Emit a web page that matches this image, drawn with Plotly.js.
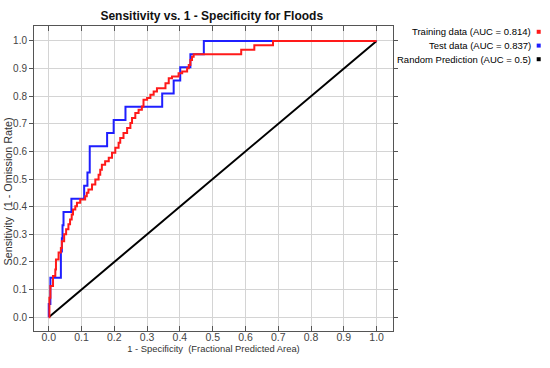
<!DOCTYPE html>
<html><head><meta charset="utf-8">
<script src="https://cdn.plot.ly/plotly-3.0.1.min.js"></script>
<style>html,body{margin:0;padding:0;background:#fff}</style>
</head><body><div id="chart" style="width:550px;height:368px"></div>
<script>
// Training data ROC (1 - specificity, sensitivity), step points
var trainFpr = [0, 0.002, 0.005, 0.013, 0.020, 0.022, 0.030, 0.037, 0.040, 0.047,
  0.053, 0.060, 0.065, 0.070, 0.074, 0.081, 0.086, 0.096, 0.111, 0.116,
  0.121, 0.132, 0.142, 0.152, 0.157, 0.162, 0.172, 0.183, 0.193, 0.203,
  0.213, 0.218, 0.228, 0.239, 0.249, 0.254, 0.264, 0.274, 0.284, 0.289,
  0.300, 0.310, 0.320, 0.330, 0.356, 0.366, 0.376, 0.396, 0.407, 0.422,
  0.427, 0.432, 0.437, 0.442, 0.587, 0.627, 0.684, 1.0];
var trainTpr = [0, 0.07, 0.113, 0.149, 0.173, 0.209, 0.234, 0.25, 0.275, 0.30,
  0.318, 0.336, 0.354, 0.372, 0.39, 0.402, 0.414, 0.426, 0.438, 0.45,
  0.462, 0.48, 0.498, 0.516, 0.534, 0.552, 0.564, 0.577, 0.595, 0.613,
  0.631, 0.649, 0.667, 0.685, 0.703, 0.721, 0.739, 0.751, 0.763, 0.787,
  0.793, 0.805, 0.817, 0.829, 0.847, 0.865, 0.871, 0.883, 0.889, 0.901,
  0.913, 0.931, 0.943, 0.952, 0.968, 0.984, 1.0, 1.0];
// Test data ROC
var testFpr = [0, 0, 0.005, 0.037, 0.040, 0.042, 0.045, 0.069, 0.108, 0.118,
  0.125, 0.178, 0.198, 0.234, 0.346, 0.381, 0.401, 0.432, 0.473, 1.0];
var testTpr = [0, 0.048, 0.143, 0.238, 0.286, 0.333, 0.381, 0.429, 0.476, 0.524,
  0.619, 0.667, 0.714, 0.762, 0.810, 0.857, 0.905, 0.952, 1.0, 1.0];
// Random prediction
var randX = [0, 1];
var randY = [0, 1];

var seriesNames = ['Training data (AUC = 0.814)', 'Test data (AUC = 0.837)', 'Random Prediction (AUC = 0.5)'];
var seriesColors = ['#ff1a1a', '#1f1fff', '#000000'];
var xTitle = '1 - Specificity\u00a0 (Fractional Predicted Area)';
var yTitle = 'Sensitivity\u00a0 (1 - Omission Rate)';
var chartTitle = 'Sensitivity vs. 1 - Specificity for Floods';

var traces = [
  {x: randX, y: randY, mode: 'lines', line: {color: seriesColors[2], width: 2}, name: seriesNames[2]},
  {x: testFpr, y: testTpr, mode: 'lines', line: {color: seriesColors[1], width: 2, shape: 'hv'}, name: seriesNames[1]},
  {x: trainFpr, y: trainTpr, mode: 'lines', line: {color: seriesColors[0], width: 2, shape: 'hv'}, name: seriesNames[0]}
];

var W = 550, H = 368, ml = 34, mr = 157, mt = 26, mb = 37;
var pw = W - ml - mr, ph = H - mt - mb;
function px2x(X) { return (X - ml) / pw; }
function px2y(Y) { return (H - mb - Y) / ph; }

var legendY = [31.8, 45.6, 59.2];
var annotations = [], shapes = [];
for (var i = 0; i < seriesNames.length; i++) {
  annotations.push({
    xref: 'paper', yref: 'paper', x: px2x(532.5), y: px2y(legendY[i]),
    xanchor: 'right', yanchor: 'middle', showarrow: false,
    text: seriesNames[i], font: {family: 'Liberation Sans, Arial', size: 9.5, color: '#000'}
  });
  shapes.push({
    type: 'rect', xref: 'paper', yref: 'paper',
    x0: px2x(536.7), x1: px2x(540.7), y0: px2y(legendY[i] + 2), y1: px2y(legendY[i] - 2),
    fillcolor: seriesColors[i], line: {width: 0}
  });
}
annotations.push({
  xref: 'paper', yref: 'paper', x: px2x(7.5), y: px2y(192),
  xanchor: 'center', yanchor: 'middle', showarrow: false, textangle: -90,
  text: yTitle, font: {family: 'Liberation Sans, Arial', size: 10.8, color: '#333'}
});

var axisCommon = {
  dtick: 0.1, tick0: 0, tickformat: '.1f', showline: true, mirror: 'ticks',
  linecolor: '#555', linewidth: 1, tickcolor: '#555', tickwidth: 1,
  showgrid: true, gridcolor: '#d4d4d4', gridwidth: 1, zeroline: false,
  tickfont: {family: 'Liberation Sans, Arial', size: 10, color: '#444'}
};

var layout = {
  width: W, height: H,
  margin: {l: ml, r: mr, t: mt, b: mb, pad: 0},
  paper_bgcolor: '#fff', plot_bgcolor: '#fff',
  showlegend: false,
  title: {text: '<b>' + chartTitle + '</b>', x: 0.385, xanchor: 'center',
    y: 1 - 16 / H, yanchor: 'middle',
    font: {family: 'Liberation Sans, Arial', size: 12, color: '#111'}},
  xaxis: Object.assign({}, axisCommon, {
    range: [-0.045, 1.05], ticks: 'inside', ticklen: 5, ticklabelstandoff: -4,
    tickfont: {family: 'Liberation Sans, Arial', size: 10.5, color: '#444'},
    title: {text: xTitle, standoff: 0,
      font: {family: 'Liberation Sans, Arial', size: 9.4, color: '#333'}}
  }),
  yaxis: Object.assign({}, axisCommon, {
    range: [-0.05, 1.054], ticks: 'outside', ticklen: 4
  }),
  annotations: annotations,
  shapes: shapes
};

Plotly.newPlot('chart', traces, layout, {displayModeBar: false, staticPlot: true});
</script></body></html>
